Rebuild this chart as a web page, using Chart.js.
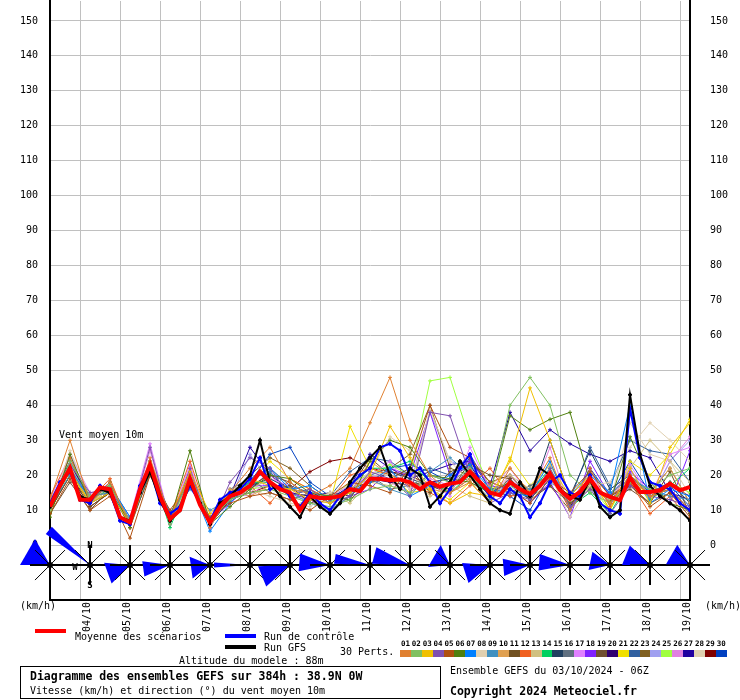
<!DOCTYPE html>
<html>
<head>
<meta charset="utf-8">
<script src="https://cdn.jsdelivr.net/npm/chart.js@4.4.1/dist/chart.umd.min.js"></script>
<style>
  body { margin: 0; background: #fff; font-family: "DejaVu Sans Mono", monospace; }
  #wrap { position: relative; width: 740px; height: 700px; overflow: hidden; }
  #chartBox { position: absolute; left: 0; top: -25px; width: 740px; height: 665px; }
  .t { position: absolute; font-size: 10px; color: #000; white-space: nowrap; }
  .bar { position: absolute; height: 4px; width: 31px; }
  #perts { position: absolute; left: 400px; top: 639px; display: flex; }
  #perts div { width: 10.9px; text-align: center; font-size: 7.5px; font-weight: bold; }
  #perts span { display: block; height: 7px; margin-top: 2px; }
  #box { position: absolute; left: 20px; top: 666px; width: 419px; height: 31px; border: 1px solid #000; }
</style>
</head>
<body>
<div id="wrap">
  <div id="chartBox"><canvas id="windChart"></canvas></div>
  <div class="t" style="left:59px;top:429px;">Vent moyen 10m</div>
  <div class="t" style="left:20px;top:600px;">(km/h)</div>
  <div class="t" style="left:705px;top:600px;">(km/h)</div>
  <div class="bar" style="left:35px;top:629px;background:#ff0000;"></div>
  <div class="t" style="left:75px;top:631px;">Moyenne des scénarios</div>
  <div class="bar" style="left:225px;top:634px;background:#0000ff;"></div>
  <div class="t" style="left:264px;top:631px;">Run de contrôle</div>
  <div class="bar" style="left:225px;top:645px;background:#000;"></div>
  <div class="t" style="left:264px;top:642px;">Run GFS</div>
  <div class="t" style="left:340px;top:646px;">30 Perts.</div>
  <div id="perts"></div>
  <div class="t" style="left:179px;top:655px;">Altitude du modele : 88m</div>
  <div id="box">
    <div class="t" style="left:9px;top:2px;font-size:11.5px;font-weight:bold;">Diagramme des ensembles GEFS sur 384h : 38.9N 0W</div>
    <div class="t" style="left:9px;top:18px;">Vitesse (km/h) et direction (°) du vent moyen 10m</div>
  </div>
  <div class="t" style="left:450px;top:665px;">Ensemble GEFS du 03/10/2024 - 06Z</div>
  <div class="t" style="left:450px;top:684px;font-size:11.5px;font-weight:bold;">Copyright 2024 Meteociel.fr</div>
</div>
<script>
// hours since 03/10 06Z
const dateLabels = ['04/10','05/10','06/10','07/10','08/10','09/10','10/10','11/10','12/10','13/10','14/10','15/10','16/10','17/10','18/10','19/10'];
const yTicks = [0,10,20,30,40,50,60,70,80,90,100,110,120,130,140,150];

// 6-hourly series (65 values, 0..384h)
const meanSpeed = [11,17,22,13,13,16.5,16,8,6.5,16,23,14,7.5,10,19,11.5,6.5,11,14,15,17,21,18,16,15,10,14,13.5,13.5,14,16,15.5,19,19,18.6,18.8,18,16,18,16.7,17.6,18,21,18,15,14.3,18,16,14.6,17,20.5,15.7,13.3,15.2,19,15,13.8,12.9,19.3,15.2,15.2,15.7,17.6,15.7,16.7];
const controlSpeed = [12,18,21,13,12,17,15,7,6,17,22,12,9,11,17,12,7,13,15,16,19,25,16,17,14,11,15,12,10,14,17,20,22,28,29,27,20,22,18,12,16,22,26,18,14,12,16,14,8,12,18,20,15,14,20,12,10,9,39,25,18,17,16,12,10];
const gfsSpeed = [11,17,22,14,13,16,15,8,7,15,21,13,7,10,18,12,6,12,14,17,20,30,18,14,11,8,14,11,9,12,18,22,25,28,20,16,22,20,11,14,18,24,20,16,12,10,9,18,14,22,20,16,14,13,19,11,8,10,43,26,17,14,12,10,7];

// 12-hourly perturbations (33 values, 0..384h)
const pertColors = ['#e08030','#80c060','#f0c000','#8050b0','#b05010','#508010','#0080ff','#e0d0b0','#4090c0','#e0a050','#705020','#f06020','#d0c080','#00d060','#204060','#607080','#e080ff','#8020ff','#705030','#300070','#f0e000','#3060a0','#806020','#a0a0f0','#a0ff40','#e080e0','#2000a0','#e0d0b0','#800000','#0040c0'];
const p01 = [13,30,12,18,6,25,8,20,5,15,22,28,18,14,17,22,35,48,30,20,15,18,12,22,15,25,10,18,12,20,14,16,10];
const p02 = [10,24,14,17,7,24,6,20,7,13,15,16,14,12,11,13,16,17,15,20,18,22,14,40,48,40,20,15,12,18,16,20,22];
const p03 = [12,21,12,15,6,22,8,21,9,15,19,17,16,13,12,15,20,34,25,16,12,15,14,24,45,30,14,20,10,22,12,28,35];
const p04 = [11,23,15,16,7,28,6,22,5,18,25,22,14,16,12,14,21,19,14,38,37,20,12,15,13,22,11,16,9,17,14,13,11];
const p05 = [9,19,10,14,2,20,10,18,8,12,14,15,13,10,14,18,17,15,22,40,28,25,18,16,12,19,15,21,14,18,11,15,8];
const p06 = [8,26,12,18,5,24,7,27,6,11,16,20,19,15,14,13,24,30,28,20,19,18,15,37,33,36,38,18,12,31,18,12,10];
const p07 = [12,22,13,17,8,23,9,18,4,12,18,22,16,17,13,15,18,22,14,17,20,23,16,15,14,24,10,20,15,40,12,16,14];
const p08 = [10,27,14,16,7,22,6,19,8,14,16,14,12,11,15,17,21,20,16,39,24,18,14,17,12,20,8,17,18,28,35,30,24];
const p09 = [11,20,14,15,6,21,8,16,10,13,19,21,15,12,10,14,19,16,14,21,25,20,13,18,16,18,14,21,15,19,16,14,13];
const p10 = [13,22,12,17,7,24,7,20,6,16,14,17,16,15,12,15,24,20,18,16,15,19,17,22,15,21,13,19,12,18,15,22,12];
const p11 = [10,20,11,15,6,20,9,17,8,13,15,16,17,12,14,13,18,19,22,15,21,23,20,19,13,17,12,16,14,17,12,21,9];
const p12 = [14,25,13,19,5,22,8,24,7,15,17,12,19,16,13,20,22,20,17,15,12,17,22,14,15,21,10,22,11,18,9,14,7];
const p13 = [12,23,12,16,7,21,7,18,7,13,16,19,11,13,15,12,18,17,21,14,17,14,12,20,16,23,12,18,13,22,30,24,18];
const p14 = [11,21,13,16,6,23,5,19,8,14,18,18,14,16,12,17,22,22,24,18,15,20,14,17,15,22,11,15,9,19,13,17,22];
const p15 = [12,24,14,17,7,24,8,20,6,13,17,19,16,15,13,16,18,21,19,17,16,22,15,18,13,30,14,27,16,20,15,18,12];
const p16 = [10,22,12,15,6,22,9,17,7,16,19,15,13,15,14,15,20,16,17,20,18,19,16,14,17,20,12,18,12,17,14,16,10];
const p17 = [13,26,15,16,8,29,7,23,5,15,14,19,17,12,14,17,20,24,16,18,14,28,16,22,14,19,12,21,11,23,14,26,28];
const p18 = [11,22,13,18,6,24,6,21,7,12,17,17,15,13,10,14,16,22,20,38,20,24,17,16,12,18,8,24,14,21,16,12,27];
const p19 = [9,18,10,16,5,21,8,18,6,14,17,20,18,14,13,16,25,20,18,17,15,24,18,20,14,17,10,18,13,16,12,15,9];
const p20 = [12,23,14,15,7,23,9,19,6,13,16,21,15,14,15,14,19,18,17,18,19,23,14,19,13,21,11,19,12,20,14,17,14];
const p21 = [11,21,12,16,6,22,7,20,7,14,18,24,19,16,12,34,22,20,15,16,13,18,12,25,17,23,14,20,10,24,20,26,36];
const p22 = [12,23,13,17,7,22,8,18,7,15,19,22,17,15,14,21,25,24,20,22,20,26,16,17,13,20,13,28,17,30,27,26,18];
const p23 = [10,20,12,15,7,21,9,17,8,14,20,25,22,17,13,15,18,22,26,40,22,20,15,16,14,19,12,17,13,18,15,22,12];
const p24 = [11,24,14,16,6,23,8,20,6,13,26,18,14,13,12,16,19,21,17,38,24,22,14,18,15,21,12,16,12,22,13,24,30];
const p25 = [10,22,13,17,6,23,7,19,7,14,16,17,16,15,13,18,20,23,20,47,48,30,16,18,13,20,12,17,10,20,14,18,15];
const p26 = [12,25,14,16,7,27,7,22,6,14,15,20,15,16,13,16,20,18,15,19,17,23,14,20,13,28,10,19,13,22,13,24,31];
const p27 = [11,22,13,17,7,23,8,20,7,14,28,20,16,15,13,17,26,22,19,21,23,24,17,38,27,33,29,26,24,27,25,15,13];
const p28 = [13,21,12,16,6,22,7,18,7,13,17,18,15,14,12,16,21,31,27,18,16,20,15,18,13,20,11,18,12,35,26,24,14];
const p29 = [10,20,11,15,6,21,9,18,7,14,15,17,16,21,24,25,22,21,20,17,15,19,15,18,14,19,12,18,13,17,14,16,10];
const p30 = [12,23,14,17,8,22,8,19,7,15,18,26,28,18,14,16,20,22,23,21,18,25,16,14,10,20,11,22,14,24,15,17,11];
const perts = [p01,p02,p03,p04,p05,p06,p07,p08,p09,p10,p11,p12,p13,p14,p15,p16,p17,p18,p19,p20,p21,p22,p23,p24,p25,p26,p27,p28,p29,p30];

// daily wind direction (deg, from), spread (deg) and strength
const windDir = [300,310,250,262,262,270,248,275,280,285,300,252,265,275,282,292,300];
const windSpread = [30,5,25,16,30,4,20,16,8,13,35,22,18,15,25,22,28];
const windStrength = [30,54,26,28,22,36,32,32,36,38,22,28,28,32,22,28,24];

const toPts = (arr, step) => arr.map((v, i) => ({ x: i * step, y: v }));

// pert legend
const pl = document.getElementById('perts');
pertColors.forEach((c, i) => {
  const d = document.createElement('div');
  d.innerHTML = String(i + 1).padStart(2, '0') + '<span style="background:' + c + '"></span>';
  pl.appendChild(d);
});

const datasets = [];
datasets.push({ data: toPts(meanSpeed, 6), borderColor: '#ff0000', borderWidth: 4, pointRadius: 0, order: 0 });
datasets.push({ data: toPts(gfsSpeed, 6), borderColor: '#000', borderWidth: 2, pointRadius: 2, pointStyle: 'cross', order: 1 });
datasets.push({ data: toPts(controlSpeed, 6), borderColor: '#0000ff', borderWidth: 2, pointRadius: 2, pointStyle: 'cross', order: 2 });
perts.forEach((p, i) => {
  datasets.push({ data: toPts(p, 12), borderColor: pertColors[i], borderWidth: 1, pointRadius: 2,
    pointStyle: 'cross', pointBorderColor: pertColors[i], order: 3 + i });
});

const windPlugin = {
  id: 'windRose',
  afterDatasetsDraw(chart) {
    const { ctx, scales } = chart;
    const cy = scales.y.getPixelForValue(-5.7);
    ctx.save();
    windDir.forEach((dir, k) => {
      const cx = scales.x.getPixelForValue(k * 24);
      const len = windStrength[k];
      const a1 = (dir - windSpread[k] - 90) * Math.PI / 180;
      const a2 = (dir + windSpread[k] - 90) * Math.PI / 180;
      ctx.fillStyle = '#0000ff';
      ctx.beginPath();
      ctx.moveTo(cx, cy);
      ctx.lineTo(cx + len * Math.cos(a1), cy + len * Math.sin(a1));
      ctx.lineTo(cx + len * Math.cos(a2), cy + len * Math.sin(a2));
      ctx.closePath();
      ctx.fill();
      ctx.strokeStyle = '#000';
      ctx.lineWidth = 2;
      ctx.beginPath();
      ctx.moveTo(cx - 20, cy); ctx.lineTo(cx + 20, cy);
      ctx.moveTo(cx, cy - 20); ctx.lineTo(cx, cy + 20);
      ctx.stroke();
      ctx.lineWidth = 1;
      ctx.beginPath();
      ctx.moveTo(cx - 15, cy - 15); ctx.lineTo(cx + 15, cy + 15);
      ctx.moveTo(cx + 15, cy - 15); ctx.lineTo(cx - 15, cy + 15);
      ctx.stroke();
      ctx.fillStyle = '#000';
      ctx.beginPath(); ctx.arc(cx, cy, 3, 0, Math.PI * 2); ctx.fill();
    });
    const nx = scales.x.getPixelForValue(24);
    ctx.font = 'bold 9px "DejaVu Sans Mono"';
    ctx.textAlign = 'center';
    ctx.textBaseline = 'middle';
    ctx.fillText('N', nx, cy - 19);
    ctx.fillText('S', nx, cy + 21);
    ctx.fillText('W', nx - 15, cy + 3);
    ctx.restore();
  }
};

new Chart(document.getElementById('windChart'), {
  type: 'line',
  data: { datasets },
  plugins: [windPlugin],
  options: {
    responsive: true,
    maintainAspectRatio: false,
    animation: false,
    layout: { padding: 0 },
    plugins: { legend: { display: false }, tooltip: { enabled: false } },
    elements: { line: { tension: 0 } },
    scales: {
      x: {
        type: 'linear', min: 0, max: 384,
        afterBuildTicks: s => { s.ticks = dateLabels.map((_, i) => ({ value: 18 + 24 * i })); },
        afterFit: s => { s.height = 40; },
        grid: { color: '#c0c0c0', drawTicks: false },
        border: { color: '#000', width: 2 },
        ticks: {
          minRotation: 90, maxRotation: 90, padding: 2, labelOffset: 7, color: '#000',
          font: { family: 'DejaVu Sans Mono', size: 10 },
          callback: (v) => dateLabels[Math.round((v - 18) / 24)]
        }
      },
      y: {
        min: -15.7, max: 155.7, position: 'left',
        afterBuildTicks: s => { s.ticks = yTicks.map(v => ({ value: v })); },
        afterFit: s => { s.width = 50; },
        grid: { color: '#c0c0c0', drawTicks: false },
        border: { color: '#000', width: 2 },
        ticks: { color: '#000', padding: 12, font: { family: 'DejaVu Sans Mono', size: 10 } }
      },
      y2: {
        min: -15.7, max: 155.7, position: 'right',
        afterBuildTicks: s => { s.ticks = yTicks.map(v => ({ value: v })); },
        afterFit: s => { s.width = 50; },
        grid: { display: false, drawTicks: false },
        border: { color: '#000', width: 2 },
        ticks: { color: '#000', padding: 20, font: { family: 'DejaVu Sans Mono', size: 10 } }
      }
    }
  }
});
</script>
</body>
</html>
